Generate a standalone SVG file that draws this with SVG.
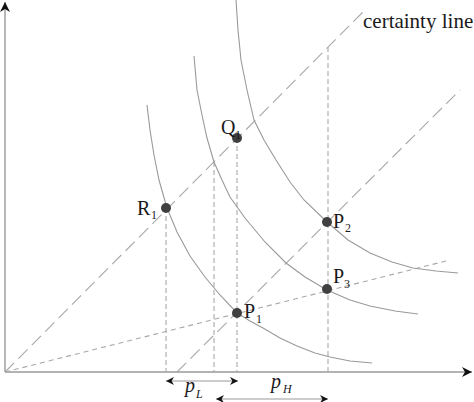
<svg xmlns="http://www.w3.org/2000/svg" width="474" height="402" viewBox="0 0 474 402">
<style>
.axis{stroke:#9a9a9a;stroke-width:1.4;fill:none}
.curve{stroke:#9a9a9a;stroke-width:1.1;fill:none}
.long{stroke:#a8a8a8;stroke-width:1.1;stroke-dasharray:13,6;fill:none}
.short{stroke:#a8a8a8;stroke-width:1.1;stroke-dasharray:5,4;fill:none}
.vert{stroke:#a8a8a8;stroke-width:1.1;stroke-dasharray:5,3;fill:none}
.dim{stroke:#9a9a9a;stroke-width:1.2;fill:none}
.dot{fill:#404040}
.lbl{font-size:20px}
.big{font-size:21px}
.sub{font-size:12px}
.it{font-style:italic}
</style>
<defs>
<marker id="big" viewBox="0 0 10 10" refX="10" refY="5" markerWidth="10" markerHeight="10" markerUnits="userSpaceOnUse" orient="auto">
<path d="M0,0 L10,5 L0,10 L3,5 Z" fill="#111"/>
</marker>
<marker id="sm" viewBox="0 0 10 10" refX="10" refY="5" markerWidth="8" markerHeight="8" markerUnits="userSpaceOnUse" orient="auto-start-reverse">
<path d="M0,0 L10,5 L0,10 L3,5 Z" fill="#111"/>
</marker>
</defs>
<g id="axes">
<line class="axis" x1="5" y1="372" x2="5" y2="2" marker-end="url(#big)"/>
<line class="axis" x1="5" y1="372" x2="472" y2="372" marker-end="url(#big)"/>
</g>
<g id="connectors">
<line class="long" x1="5" y1="372" x2="363" y2="12"/>
<line class="long" x1="177" y1="372" x2="460" y2="90"/>
<line class="short" x1="5" y1="372" x2="446" y2="261"/>
<line class="vert" x1="166" y1="208" x2="166" y2="372"/>
<line class="vert" x1="214" y1="162" x2="214" y2="372"/>
<line class="vert" x1="237" y1="138" x2="237" y2="372"/>
<line class="vert" x1="328" y1="47" x2="328" y2="372"/>
<line class="dim" x1="166" y1="381" x2="238" y2="381" marker-start="url(#sm)" marker-end="url(#sm)"/>
<line class="dim" x1="216" y1="399" x2="328" y2="399" marker-start="url(#sm)" marker-end="url(#sm)"/>
</g>
<g id="curves">
<polyline class="curve" points="147,105 150,130 154,155 159,180 167,208 177,232 190,256 205,277 220,295 237,313 250,321 263,328 280,338 297,346 315,353 330,357 350,361 372,363"/>
<polyline class="curve" points="194,56 197,90 202,115 207,138 214,162 222,180 230,197 245,218 265,242 286,263 305,277 327,290 350,300 370,306 395,311 418,314"/>
<polyline class="curve" points="236,0 238,30 241,60 247,90 254,120 264,140 276,160 290,182 304,200 327,222 348,240 370,253 392,262 413,268 436,271 458,273"/>
</g>
<g font-family="Liberation Serif, Times New Roman, serif" fill="#1a1a1a">
<g id="R1"><circle class="dot" cx="166" cy="208" r="5"/><text class="lbl" x="137" y="215">R</text><text class="sub" x="151" y="219">1</text></g>
<g id="Q1"><circle class="dot" cx="237" cy="138" r="5"/><text class="lbl" x="221" y="134">Q</text><text class="sub" x="235" y="139">1</text></g>
<g id="P1"><circle class="dot" cx="237" cy="313" r="5"/><text class="lbl" x="244" y="318">P</text><text class="sub" x="256" y="323">1</text></g>
<g id="P2"><circle class="dot" cx="327" cy="222" r="5"/><text class="lbl" x="333" y="228">P</text><text class="sub" x="345" y="232">2</text></g>
<g id="P3"><circle class="dot" cx="327" cy="289" r="5"/><text class="lbl" x="333" y="283">P</text><text class="sub" x="344" y="288">3</text></g>
<g id="labels">
<text class="big" x="363" y="28">certainty line</text>
<text class="lbl it" x="185" y="392">p</text><text class="sub it" x="196" y="398">L</text>
<text class="lbl it" x="271" y="388">p</text><text class="sub it" x="283" y="393">H</text>
</g>
</g>
</svg>
